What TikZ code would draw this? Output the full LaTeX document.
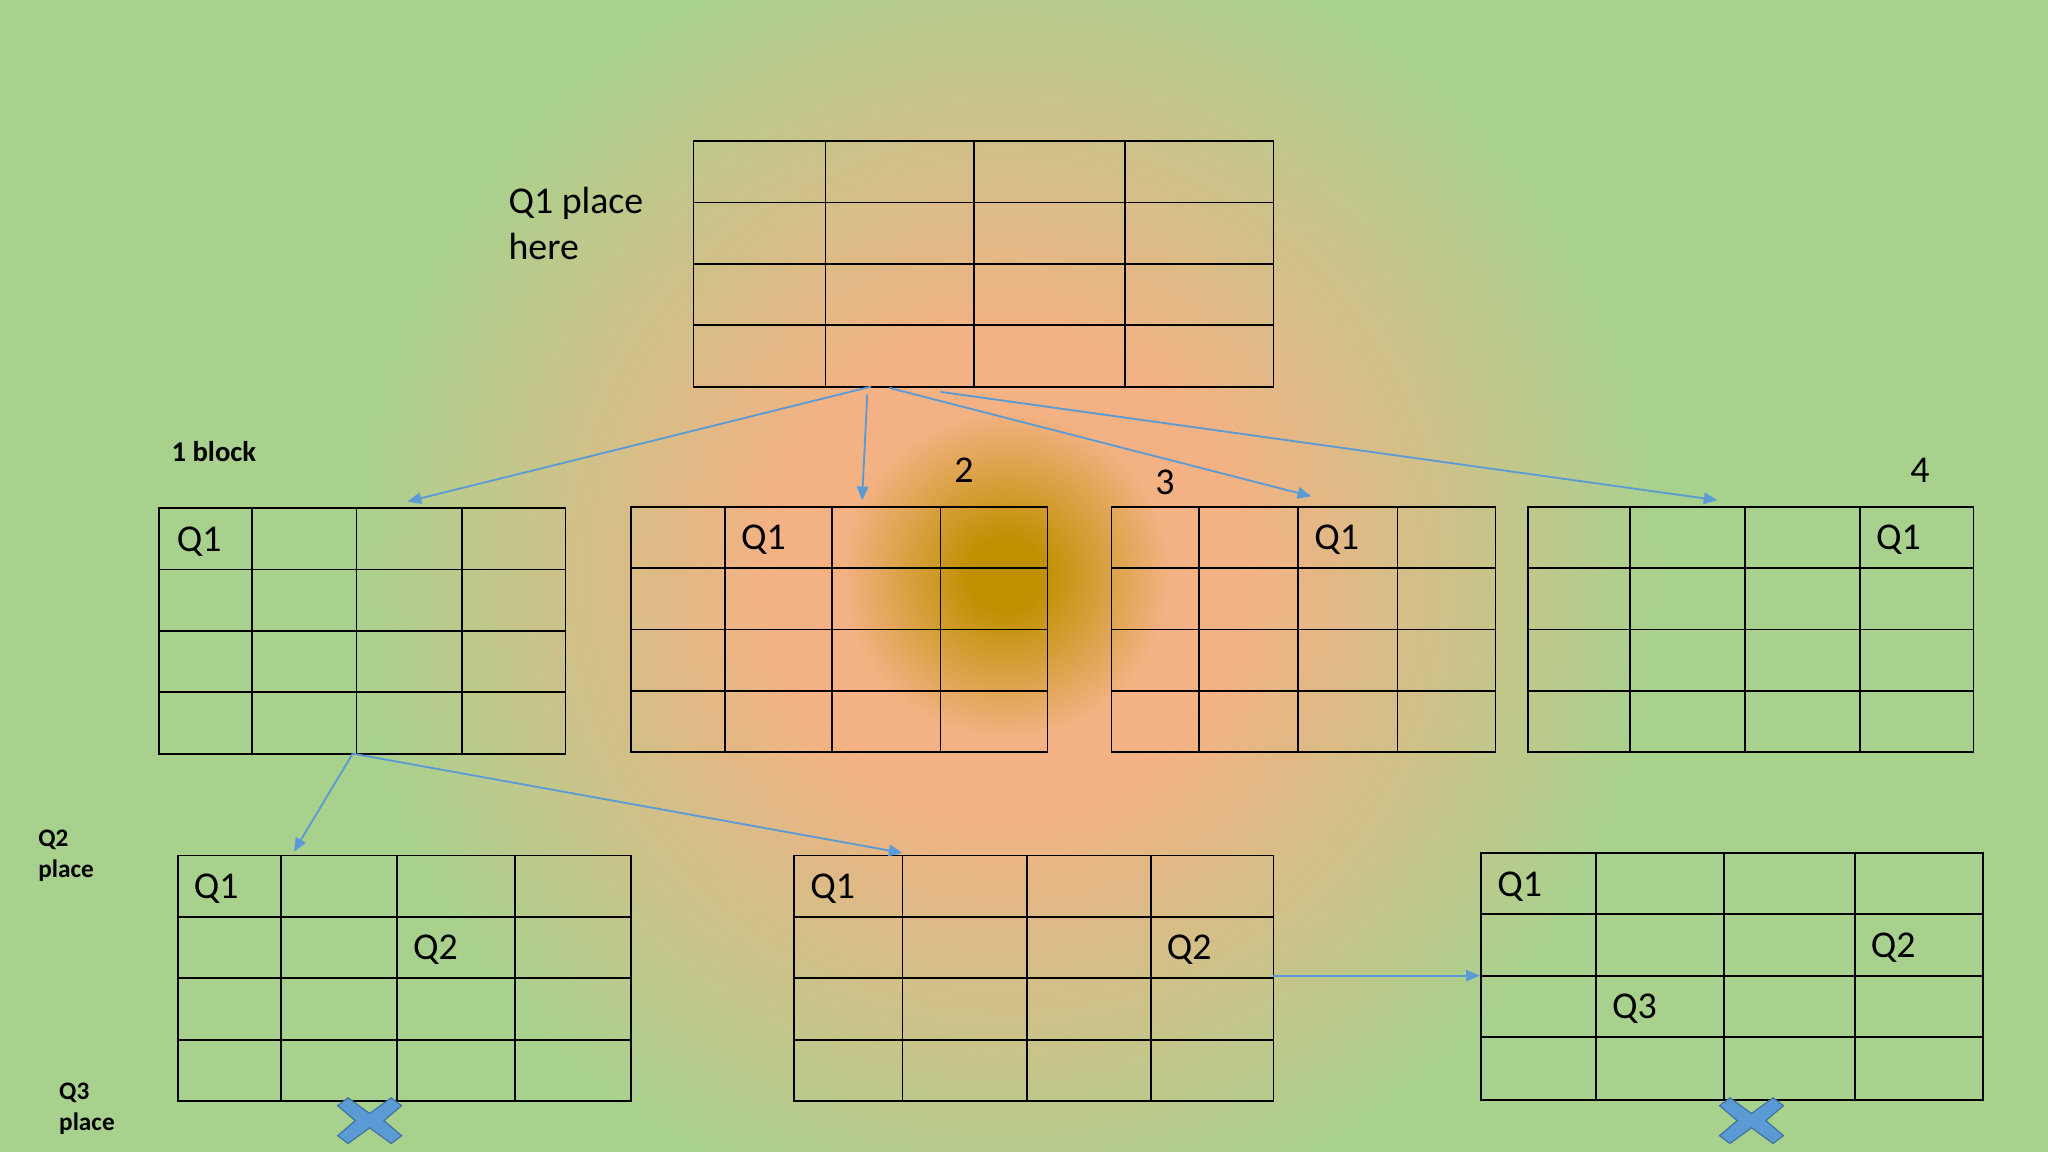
\documentclass[tikz,border=0pt]{standalone}
\usepackage{fontspec}
\setmainfont{Carlito}
\usetikzlibrary{arrows.meta}

\definecolor{leaf}{HTML}{A9D18E}
\definecolor{peach}{HTML}{F4B183}
\definecolor{amber}{HTML}{BF9000}
\definecolor{wire}{HTML}{5B9BD5}
\definecolor{wireedge}{HTML}{41719C}

\pgfdeclareradialshading{glow}{\pgfpoint{0bp}{0bp}}{color(0bp)=(amber); color(1.3bp)=(amber); color(6bp)=(peach); color(8.5bp)=(peach); color(24bp)=(leaf); color(50bp)=(leaf)}

\tikzset{
	cell/.style={draw=black, line width=0.8pt},
	link/.style={draw=wire, line width=0.8pt, -{Triangle[length=6pt,width=5pt]}},
	tag/.style={anchor=west, inner sep=0pt, font=\fontsize{16.5}{20}\selectfont},
	note/.style={anchor=west, align=left, inner sep=0pt, font=\bfseries\fontsize{11}{13.5}\selectfont},
	num/.style={inner sep=0pt, font=\fontsize{16.5}{20}\selectfont},
	crossmark/.style={fill=wire, draw=wireedge, line width=0.5pt, line join=miter}
}

% board: left, right, top, bottom, inner columns, inner rows
\newcommand{\board}[6]{%
	\draw[cell] (#1,#3) rectangle (#2,#4);
	\foreach \x in {#5} \draw[cell] (\x,#3) -- (\x,#4);
	\foreach \y in {#6} \draw[cell] (#1,\y) -- (#2,\y);
}
\newcommand{\nogo}[2]{%
	\draw[crossmark, shift={(#1,#2)}] (0,-5.5) -- (16.5,-17.5) -- (24.5,-11.5) -- (11,0) -- (24.5,11.5) -- (16.5,17.5) -- (0,5.5) -- (-16.5,17.5) -- (-24.5,11.5) -- (-11,0) -- (-24.5,-11.5) -- (-16.5,-17.5) -- cycle;
}

\begin{document}
\begin{tikzpicture}[x=0.02cm, y=-0.02cm]
	\useasboundingbox (0,0) rectangle (1568,882);
	\clip (0,0) rectangle (1568,882);
	\fill[leaf] (0,0) rectangle (1568,882);
	\shade[shading=glow] (770,440) circle (10.4cm);

	% boards
	\board{531}{975}{108}{296}{632,746,861}{155,202,249}
	\board{122}{433}{389}{577}{193,273,354}{436,483,530}
	\board{483}{802}{388}{576}{555,637,720}{435,482,529}
	\board{851}{1145}{388}{576}{918,994,1070}{435,482,529}
	\board{1170}{1511}{388}{576}{1248,1336,1424}{435,482,529}
	\board{136}{483}{655}{843}{215,304,394}{702,749,796}
	\board{608}{975}{655}{843}{691,786,881}{702,749,796}
	\board{1134}{1518}{653}{842}{1222,1320,1420}{700,747,794}

	% queens
	\node[tag] (a1) at (135,414.5) {Q1};
	\node[tag] (b1) at (567,413.5) {Q1};
	\node[tag] (c1) at (1006,413.5) {Q1};
	\node[tag] (d1) at (1436,413.5) {Q1};
	\node[tag] (e1) at (148,680.5) {Q1};
	\node[tag] (e2) at (316,727.5) {Q2};
	\node[tag] (f1) at (620,680.5) {Q1};
	\node[tag] (f2) at (893,727.5) {Q2};
	\node[tag] (h1) at (1146,679) {Q1};
	\node[tag] (h2) at (1432,725.5) {Q2};
	\node[tag] (h3) at (1234,772.5) {Q3};

	% notes
	\node[tag, align=left] (title) at (389,171) {Q1 place\\here};
	\node[note, font=\bfseries\fontsize{12.5}{14}\selectfont] (blk) at (131,346) {1 block};
	\node[note] (q2p) at (29,655) {Q2\\place};
	\node[note] (q3p) at (45,849) {Q3\\place};
	\node[num] (n2) at (738,360) {2};
	\node[num] (n3) at (892,369) {3};
	\node[num] (n4) at (1470,360) {4};

	% arrows
	\coordinate (o1) at (667,296);
	\coordinate (o2) at (664,302);
	\coordinate (o3) at (681,297);
	\coordinate (o4) at (720,300);
	\coordinate (o5) at (270,577);
	\coordinate (o7) at (975,747);
	\coordinate (i1) at (312,384);
	\coordinate (i2) at (660,383);
	\coordinate (i3) at (1004,380);
	\coordinate (i4) at (1315,383);
	\coordinate (i5) at (225,652);
	\coordinate (i6) at (691,653);
	\coordinate (i7) at (1133,747);
	\draw[link] (o1) -- (i1);
	\draw[link] (o2) -- (i2);
	\draw[link] (o3) -- (i3);
	\draw[link] (o4) -- (i4);
	\draw[link] (o5) -- (i5);
	\draw[link] (o5) -- (i6);
	\draw[link] (o7) -- (i7);

	% dead ends
	\nogo{283}{858}
	\nogo{1341}{858}
\end{tikzpicture}
\end{document}
